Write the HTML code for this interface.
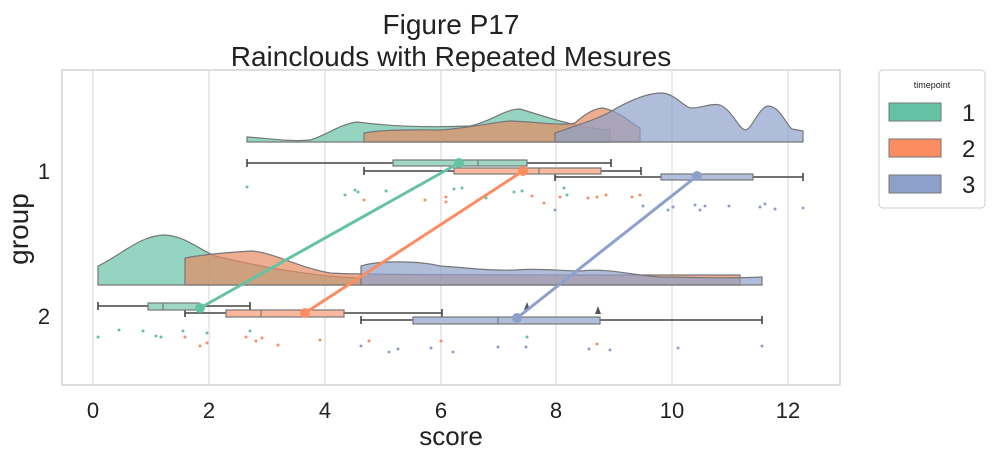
<!DOCTYPE html>
<html><head><meta charset="utf-8"><style>body{margin:0;background:#fff}svg{display:block;font-family:"Liberation Sans",sans-serif}</style></head><body>
<svg width="1000" height="457" viewBox="0 0 1000 457">
<rect x="62" y="70" width="778" height="315" fill="#fff" stroke="#ccc" stroke-width="1.3"/>
<g stroke="#ddd" stroke-width="1.2">
<line x1="93" y1="70" x2="93" y2="385"/><line x1="209" y1="70" x2="209" y2="385"/><line x1="325" y1="70" x2="325" y2="385"/><line x1="441" y1="70" x2="441" y2="385"/><line x1="556" y1="70" x2="556" y2="385"/><line x1="672" y1="70" x2="672" y2="385"/><line x1="788" y1="70" x2="788" y2="385"/>
</g>
<g stroke="#777" stroke-width="1.2" fill-opacity="0.7">
<path fill="#66c2a5" d="M247,142 L247,137 C265,138 290,142 310,140 C325,136 340,124 357,122 C380,125 420,128 470,126 C490,122 505,109 520,109 C540,115 560,122 590,128 L610,130 L610,142Z"/>
<path fill="#e58a62" d="M364,142 L364,133 C385,129 420,130 440,130 C470,128 495,122 510,121 C540,122 560,126 575,123 C585,114 595,108 603,108 C620,112 630,122 640,128 L640,142Z"/>
<path fill="#8da0cb" d="M555,142 L555,133 C575,126 595,120 610,112 C630,100 648,93 662,93 C676,94 684,108 692,108 C702,108 710,103 720,105 C732,110 738,128 745,130 C752,130 758,108 768,106 C780,106 787,126 792,129 L803,131 L803,142Z"/>
<path fill="#66c2a5" d="M98,285 L98,266 C120,256 140,235 165,235 C185,236 200,250 215,256 C240,262 300,276 361,278 L361,285Z"/>
<path fill="#e58a62" d="M185,285 L185,258 C200,255 230,252 252,251 C275,253 300,268 330,273 C345,274 360,275 740,275 L740,285Z"/>
<path fill="#8da0cb" d="M361,285 L361,266 C380,260 420,261 440,266 C470,268 490,271 515,270 C545,268 560,271 580,271 C610,268 630,275 660,277 C690,277 720,279 762,277 L762,285Z"/>
</g>
<g stroke="#444" stroke-width="1.6">
<line x1="247" y1="163" x2="611" y2="163"/><line x1="247" y1="159" x2="247" y2="167"/><line x1="611" y1="159" x2="611" y2="167"/>
<line x1="364" y1="171" x2="641" y2="171"/><line x1="364" y1="167" x2="364" y2="175"/><line x1="641" y1="167" x2="641" y2="175"/>
<line x1="555" y1="177" x2="803" y2="177"/><line x1="555" y1="173" x2="555" y2="181"/><line x1="803" y1="173" x2="803" y2="181"/>
<line x1="98" y1="306" x2="250" y2="306"/><line x1="98" y1="302" x2="98" y2="310"/><line x1="250" y1="302" x2="250" y2="310"/>
<line x1="185" y1="313" x2="442" y2="313"/><line x1="185" y1="309" x2="185" y2="317"/><line x1="442" y1="309" x2="442" y2="317"/>
<line x1="361" y1="320" x2="762" y2="320"/><line x1="361" y1="316" x2="361" y2="324"/><line x1="762" y1="316" x2="762" y2="324"/>
</g>
<g stroke="#777" stroke-width="1.2">
<rect x="393" y="160" width="134" height="6" fill="#9fd6c4"/><line x1="478" y1="160" x2="478" y2="166"/>
<rect x="454" y="168" width="147" height="6" fill="#fbb89c"/><line x1="539" y1="168" x2="539" y2="174"/>
<rect x="661" y="174" width="92" height="6" fill="#b1bedb"/>
<rect x="148" y="303" width="51" height="7" fill="#9fd6c4"/><line x1="163" y1="303" x2="163" y2="310"/>
<rect x="226" y="310" width="118" height="7" fill="#fbb89c"/><line x1="261" y1="310" x2="261" y2="317"/>
<rect x="413" y="317" width="187" height="7" fill="#b1bedb"/><line x1="498" y1="317" x2="498" y2="324"/>
</g>
<path d="M524,310 l3,-8 l3,8z M595,314 l3,-8 l3,8z" fill="#555"/>
<g stroke-width="3">
<line x1="200" y1="308" x2="459" y2="163" stroke="#66c2a5"/>
<line x1="305" y1="313" x2="523" y2="171" stroke="#fc8d62"/>
<line x1="517" y1="318" x2="697" y2="176" stroke="#8da0cb"/>
</g>
<circle cx="459" cy="163" r="5" fill="#66c2a5"/><circle cx="523" cy="171" r="5" fill="#fc8d62"/><circle cx="697" cy="176" r="5" fill="#8da0cb"/>
<circle cx="200" cy="308" r="5" fill="#66c2a5"/><circle cx="305" cy="313" r="5" fill="#fc8d62"/><circle cx="517" cy="318" r="5" fill="#8da0cb"/>
<g fill="#66c2a5"><circle cx="247" cy="187" r="1.5"/><circle cx="345" cy="195" r="1.5"/><circle cx="355" cy="190" r="1.5"/><circle cx="358" cy="192" r="1.5"/><circle cx="386" cy="191" r="1.5"/><circle cx="411" cy="190" r="1.5"/><circle cx="454" cy="189" r="1.5"/><circle cx="462" cy="188" r="1.5"/><circle cx="486" cy="198" r="1.5"/><circle cx="514" cy="192" r="1.5"/><circle cx="522" cy="191" r="1.5"/><circle cx="564" cy="188" r="1.5"/><circle cx="567" cy="195" r="1.5"/>
<circle cx="98" cy="337" r="1.5"/><circle cx="119" cy="330" r="1.5"/><circle cx="143" cy="331" r="1.5"/><circle cx="156" cy="336" r="1.5"/><circle cx="161" cy="337" r="1.5"/><circle cx="183" cy="331" r="1.5"/><circle cx="207" cy="333" r="1.5"/><circle cx="250" cy="331" r="1.5"/><circle cx="527" cy="337" r="1.5"/></g>
<g fill="#fc8d62"><circle cx="364" cy="200" r="1.5"/><circle cx="425" cy="200" r="1.5"/><circle cx="446" cy="202" r="1.5"/><circle cx="446" cy="197" r="1.5"/><circle cx="532" cy="196" r="1.5"/><circle cx="544" cy="203" r="1.5"/><circle cx="560" cy="197" r="1.5"/><circle cx="588" cy="198" r="1.5"/><circle cx="597" cy="197" r="1.5"/><circle cx="606" cy="195" r="1.5"/><circle cx="632" cy="197" r="1.5"/><circle cx="640" cy="195" r="1.5"/>
<circle cx="185" cy="337" r="1.5"/><circle cx="200" cy="346" r="1.5"/><circle cx="207" cy="343" r="1.5"/><circle cx="246" cy="337" r="1.5"/><circle cx="256" cy="341" r="1.5"/><circle cx="262" cy="338" r="1.5"/><circle cx="278" cy="345" r="1.5"/><circle cx="320" cy="340" r="1.5"/><circle cx="369" cy="341" r="1.5"/><circle cx="597" cy="344" r="1.5"/><circle cx="441" cy="341" r="1.5"/></g>
<g fill="#8da0cb"><circle cx="555" cy="210" r="1.5"/><circle cx="643" cy="206" r="1.5"/><circle cx="660" cy="205" r="1.5"/><circle cx="668" cy="210" r="1.5"/><circle cx="673" cy="207" r="1.5"/><circle cx="695" cy="205" r="1.5"/><circle cx="700" cy="210" r="1.5"/><circle cx="705" cy="206" r="1.5"/><circle cx="729" cy="206" r="1.5"/><circle cx="760" cy="207" r="1.5"/><circle cx="765" cy="204" r="1.5"/><circle cx="775" cy="209" r="1.5"/><circle cx="803" cy="208" r="1.5"/>
<circle cx="361" cy="346" r="1.5"/><circle cx="389" cy="352" r="1.5"/><circle cx="398" cy="349" r="1.5"/><circle cx="431" cy="348" r="1.5"/><circle cx="453" cy="352" r="1.5"/><circle cx="498" cy="347" r="1.5"/><circle cx="526" cy="347" r="1.5"/><circle cx="589" cy="349" r="1.5"/><circle cx="610" cy="350" r="1.5"/><circle cx="678" cy="348" r="1.5"/><circle cx="762" cy="346" r="1.5"/></g>
<g font-size="22" fill="#222" text-anchor="middle">
<text x="93" y="418">0</text><text x="209" y="418">2</text><text x="325" y="418">4</text><text x="441" y="418">6</text><text x="556" y="418">8</text><text x="672" y="418">10</text><text x="788" y="418">12</text>
<text x="44" y="179">1</text><text x="44" y="324">2</text>
<text x="451" y="445" font-size="26">score</text>
<text transform="translate(28,229) rotate(-90)" font-size="28">group</text>
<text x="451" y="34" font-size="28">Figure P17</text>
<text x="451" y="66" font-size="28">Rainclouds with Repeated Mesures</text>
</g>
<rect x="879" y="70" width="106" height="138" rx="4" fill="#fff" stroke="#ccc"/>
<text x="932" y="88" font-size="9" text-anchor="middle" fill="#222">timepoint</text>
<rect x="889" y="103" width="52" height="18" fill="#66c2a5" stroke="#777"/>
<rect x="889" y="139" width="52" height="18" fill="#fc8d62" stroke="#777"/>
<rect x="889" y="175" width="52" height="18" fill="#8da0cb" stroke="#777"/>
<g font-size="24" fill="#222"><text x="962" y="121">1</text><text x="962" y="157">2</text><text x="962" y="193">3</text></g>
</svg>
</body></html>
